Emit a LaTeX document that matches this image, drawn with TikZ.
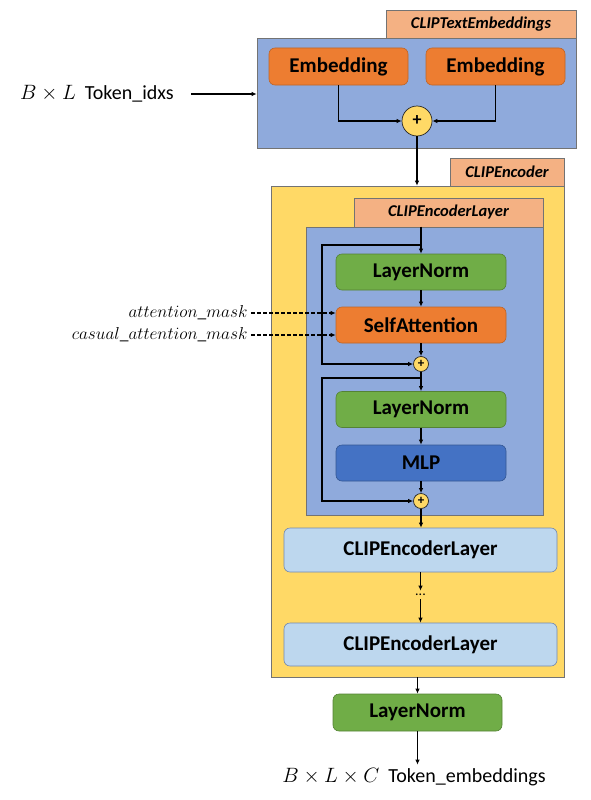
\documentclass[tikz,border=0pt]{standalone}
\usepackage{fontspec}
\setmainfont{Carlito}
\usetikzlibrary{arrows.meta}

\definecolor{hdrsalmon}{HTML}{F4B183}
\definecolor{boxblue}{HTML}{8FAADC}
\definecolor{encyellow}{HTML}{FFD966}
\definecolor{embrange}{HTML}{ED7D31}
\definecolor{normgreen}{HTML}{70AD47}
\definecolor{mlpblue}{HTML}{4472C4}
\definecolor{layerblue}{HTML}{BDD7EE}

\begin{document}
\begin{tikzpicture}[x=1pt,y=-1pt,
  frame/.style={draw=black!55, line width=0.6pt, inner sep=0pt},
  header/.style={frame, fill=hdrsalmon, font=\bfseries\itshape\fontsize{16.5}{18}\selectfont},
  block/.style={rounded corners=6pt, line width=0.6pt, inner sep=0pt, minimum width=170pt, minimum height=36pt, font=\bfseries\fontsize{21}{23}\selectfont},
  embed/.style={block, fill=embrange, draw=embrange!80!black, minimum width=139pt, minimum height=37pt},
  norm/.style={block, fill=normgreen, draw=normgreen!75!black},
  attn/.style={block, fill=embrange, draw=embrange!80!black},
  mlp/.style={block, fill=mlpblue, draw=mlpblue!75!black},
  layer/.style={block, fill=layerblue, draw=boxblue!80!black, minimum width=273pt, minimum height=44pt},
  sum/.style={circle, draw=black!85, fill=encyellow, line width=0.7pt, inner sep=0pt, font=\bfseries},
  link/.style={-{Latex[length=5pt,width=4.5pt]}, line width=1.3pt},
  mask/.style={-{Latex[length=5pt,width=4.5pt]}, line width=1.1pt, dash pattern=on 4pt off 2pt}
]
\useasboundingbox (0,0) rectangle (591,800);

% CLIPTextEmbeddings
\node[header, minimum width=190pt, minimum height=28pt] (txthdr) at (481,24) {CLIPTextEmbeddings};
\node[frame, fill=boxblue, minimum width=319pt, minimum height=110pt] (txtbox) at (416.5,93) {};
\node[embed] (emb1) at (338.5,66.5) {Embedding};
\node[embed] (emb2) at (495.5,66.5) {Embedding};
\node[sum, minimum size=30pt, font=\bfseries\fontsize{18}{18}\selectfont] (sum1) at (417,121) {+};
\node[font=\fontsize{20}{24}\selectfont] (tokidx) at (97,94) {$B\times L$\ \ Token\_idxs};

\draw[link] ([xshift=14pt]tokidx.east) -- (tokidx.east -| txtbox.west);
\draw[link] (emb1.south) |- (sum1);
\draw[link] (emb2.south) |- (sum1);

% CLIPEncoder
\node[header, minimum width=114pt, minimum height=28pt] (enchdr) at (507,172) {CLIPEncoder};
\node[frame, fill=encyellow, minimum width=293pt, minimum height=491pt] (encbox) at (417.5,431.5) {};
\draw[link] (sum1) -- (sum1 |- encbox.north);

% CLIPEncoderLayer
\node[header, minimum width=189pt, minimum height=29pt] (layhdr) at (448.5,212.5) {CLIPEncoderLayer};
\node[frame, fill=boxblue, minimum width=237pt, minimum height=288pt] (laybox) at (424.5,371) {};
\node[norm] (ln1) at (421,272) {LayerNorm};
\node[attn] (sattn) at (421,325) {SelfAttention};
\node[sum, minimum size=15pt, font=\bfseries\fontsize{13}{13}\selectfont] (sum2) at (421,364) {+};
\node[norm] (ln2) at (421,409.5) {LayerNorm};
\node[mlp] (mlp1) at (421,463) {MLP};
\node[sum, minimum size=15pt, font=\bfseries\fontsize{13}{13}\selectfont] (sum3) at (421,501) {+};

\coordinate (split1) at (421,245);
\coordinate (split2) at (421,378);
\draw[link] (ln1 |- laybox.north) -- (ln1);
\draw[link] (split1) -- ++(-99,0) |- (sum2);
\draw[link] (ln1) -- (sattn);
\draw[link] (sattn) -- (sum2);
\draw[link] (sum2) -- (ln2);
\draw[link] (split2) -- ++(-99,0) |- (sum3);
\draw[link] (ln2) -- (mlp1);
\draw[link] (mlp1) -- (sum3);

% masks
\node[anchor=east, font=\fontsize{17.5}{20}\selectfont] (mask1) at (251,313) {$attention\_mask$};
\node[anchor=east, font=\fontsize{17.5}{20}\selectfont] (mask2) at (251,335) {$casual\_attention\_mask$};
\draw[mask] (mask1.east) -- (mask1.east -| sattn.west);
\draw[mask] (mask2.east) -- (mask2.east -| sattn.west);

% stacked layers
\node[layer] (cel1) at (420.5,550) {CLIPEncoderLayer};
\node[font=\fontsize{14}{14}\selectfont] (dots) at (420.5,595) {...};
\node[layer, minimum height=43pt] (cel2) at (420.5,644.5) {CLIPEncoderLayer};
\draw[link] (sum3) -- (sum3 |- cel1.north);
\draw[link] (cel1) -- (dots);
\draw[link] (dots) -- (cel2);

% output
\node[norm, minimum width=169pt, minimum height=37pt] (lnout) at (417.5,712.5) {LayerNorm};
\node[font=\fontsize{20}{24}\selectfont] (tokemb) at (414,777) {$B\times L\times C$\ \ Token\_embeddings};
\draw[link] (lnout |- encbox.south) -- (lnout);
\draw[link] (lnout) -- (lnout |- tokemb.north);
\end{tikzpicture}
\end{document}
